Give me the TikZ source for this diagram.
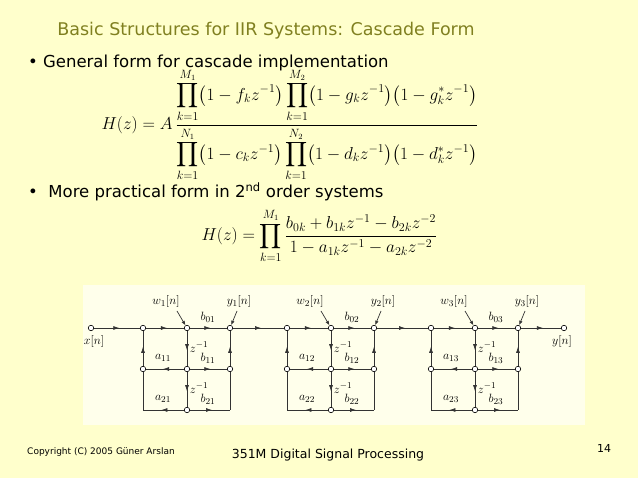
\documentclass[tikz,border=0pt]{standalone}
\usepackage{amsmath}
\usepackage{fontspec}
\setmainfont{DejaVu Sans}
\usetikzlibrary{decorations.markings,arrows.meta}
\definecolor{bgy}{HTML}{FFFFCC}
\definecolor{ttl}{HTML}{808020}
\tikzset{
  x=1pt,y=-1pt,
  nd/.style={circle,draw,fill=white,inner sep=0pt,minimum size=5.5pt,line width=0.6pt},
  wire/.style={line width=0.7pt,black!80},
  mid/.style={wire,decoration={markings,mark=at position 0.55 with {\arrow{Latex[length=6pt,width=4pt]}}},postaction={decorate}},
  lbl/.style={font=\fontsize{12.5}{13}\selectfont,inner sep=1pt},
  txt/.style={anchor=west,inner sep=0pt,font=\fontsize{16.5}{18}\selectfont}
}
\begin{document}
\begin{tikzpicture}
\fill[bgy] (0,0) rectangle (638,478);
\useasboundingbox (0,0) rectangle (638,478);
\fill[white!60!bgy] (83,285) rectangle (585,425);
\node[font=\fontsize{17.5}{20}\selectfont,text=ttl] (title) at (266,31) {Basic Structures for IIR Systems: Cascade Form};
\node[txt] (b1) at (28,63) {•\ General form for cascade implementation};
\node[txt] (b2) at (28,192) {•\ \ More practical form in 2\textsuperscript{nd} order systems};
\node[anchor=west,font=\fontsize{17}{19}\selectfont] (eq1) at (98,125) {$H(z)=A\,\dfrac{\displaystyle\prod_{k=1}^{M_1}\bigl(1-f_kz^{-1}\bigr)\prod_{k=1}^{M_2}\bigl(1-g_kz^{-1}\bigr)\bigl(1-g_k^*z^{-1}\bigr)}{\displaystyle\prod_{k=1}^{N_1}\bigl(1-c_kz^{-1}\bigr)\prod_{k=1}^{N_2}\bigl(1-d_kz^{-1}\bigr)\bigl(1-d_k^*z^{-1}\bigr)}$};
\node[anchor=west,font=\fontsize{17}{19}\selectfont] (eq2) at (198,236) {$H(z)=\displaystyle\prod_{k=1}^{M_1}\dfrac{b_{0k}+b_{1k}z^{-1}-b_{2k}z^{-2}}{1-a_{1k}z^{-1}-a_{2k}z^{-2}}$};
\node[font=\fontsize{9}{10}\selectfont] (copy) at (101,452) {Copyright (C) 2005 Güner Arslan};
\node[font=\fontsize{12.5}{14}\selectfont] (course) at (328,455) {351M Digital Signal Processing};
\node[font=\fontsize{11}{12}\selectfont] (pg) at (604,448) {14};
% diagram
\node[nd] (x) at (91,328) {};
\node[lbl] (xl) at (94,342) {$x[n]$};
\node[nd] (y) at (564,328) {};
\node[lbl] (yl) at (562,342) {$y[n]$};
\foreach \i/\L in {1/143,2/287,3/431}{
  \pgfmathsetmacro{\C}{\L+44}\pgfmathsetmacro{\R}{\L+87}
  \node[nd] (l\i) at (\L,328) {};
  \node[nd] (c\i) at (\C,328) {};
  \node[nd] (r\i) at (\R,328) {};
  \node[nd] (lm\i) at (\L,369) {};
  \node[nd] (cm\i) at (\C,369) {};
  \node[nd] (rm\i) at (\R,369) {};
  \node[nd] (cb\i) at (\C,410) {};
  \coordinate (lb\i) at (\L,410);
  \coordinate (rb\i) at (\R,410);
  \draw[mid] (l\i) -- (c\i);
  \draw[mid] (c\i) -- (r\i);
  \draw[mid] (lm\i) -- (l\i);
  \draw[mid] (rm\i) -- (r\i);
  \draw[wire] (lb\i) -- (lm\i);
  \draw[wire] (rb\i) -- (rm\i);
  \draw[mid] (c\i) -- (cm\i);
  \draw[mid] (cm\i) -- (cb\i);
  \draw[mid] (cm\i) -- (lm\i);
  \draw[mid] (cm\i) -- (rm\i);
  \draw[mid] (cb\i) -- (lb\i);
  \draw[mid] (cb\i) -- (rb\i);
  \node[lbl] (w\i) at (\C-21,302) {$w_\i[n]$};
  \node[lbl] (yy\i) at (\R+9,302) {$y_\i[n]$};
  \draw[wire,-{Latex[length=4.5pt,width=3.5pt]}] (\C-10,311) -- (c\i);
  \draw[wire,-{Latex[length=4.5pt,width=3.5pt]}] (\R+7,311) -- (r\i);
  \node[lbl] (b0\i) at (\C+21,317) {$b_{0\i}$};
  \node[lbl] (z1\i) at (\C+12,347) {$z^{-1}$};
  \node[lbl] (z2\i) at (\C+12,388) {$z^{-1}$};
  \node[lbl] (a1\i) at (\C-24,358) {$a_{1\i}$};
  \node[lbl] (b1\i) at (\C+21,358) {$b_{1\i}$};
  \node[lbl] (a2\i) at (\C-24,399) {$a_{2\i}$};
  \node[lbl] (b2\i) at (\C+21,399) {$b_{2\i}$};
}
\draw[mid] (x) -- (l1);
\draw[mid] (r1) -- (l2);
\draw[mid] (r2) -- (l3);
\draw[mid] (r3) -- (y);
\end{tikzpicture}
\end{document}
